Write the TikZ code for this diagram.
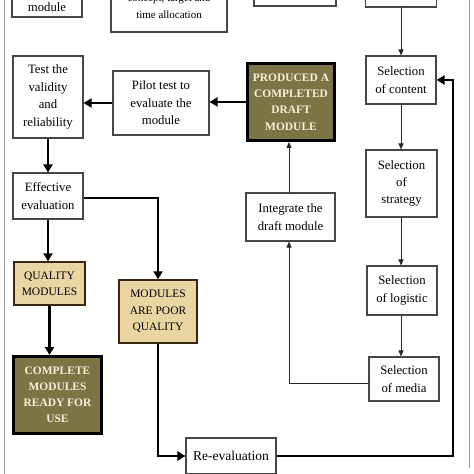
\documentclass[tikz,border=0pt]{standalone}
\usepackage{fontspec}
\setmainfont{Liberation Serif}
\usetikzlibrary{arrows.meta,positioning}
\definecolor{olive}{RGB}{125,116,70}
\definecolor{tan}{RGB}{233,212,162}
\definecolor{cream}{RGB}{246,240,218}
\definecolor{boxline}{RGB}{70,70,70}
\tikzset{
  box/.style={draw=boxline, line width=1.1pt, fill=white, inner sep=0pt, align=center,
    font=\fontsize{12.8}{17.5}\selectfont},
  darkbox/.style={draw=black, line width=3pt, fill=olive, text=cream, inner sep=0pt, align=center,
    font=\fontsize{11.5}{16.5}\selectfont\bfseries},
  tanbox/.style={draw=black!70!brown, line width=1.4pt, fill=tan, inner sep=0pt, align=center,
    font=\fontsize{11.5}{16.5}\selectfont},
  thinarrow/.style={draw=black!85, line width=0.9pt, -{Triangle[length=6bp,width=5bp]}},
  thickline/.style={draw=black, line width=2.6pt},
  thickarrow/.style={thickline, -{Triangle[length=8bp,width=9bp]}},
  frameline/.style={draw=black!40, line width=1pt}
}
\begin{document}
\begin{tikzpicture}[x=1bp,y=-1bp]
\useasboundingbox (0,0) rectangle (474,474);
\clip (0,0) rectangle (474,474);
\fill[white] (0,0) rectangle (474,474);
\draw[frameline] (4,-5) -- (4,480);
\draw[frameline] (469,-5) -- (469,468);

% top (cropped) boxes
\node[box, minimum width=70bp, minimum height=20bp] (modtop) at (47,7) {module};
\node[box, minimum width=116bp, minimum height=51bp, font=\fontsize{11}{17}\selectfont] (concept) at (169,6.5) {concept, target and\\time allocation};
\node[box, minimum width=82bp, minimum height=32bp] (boxc) at (295,-10) {};
\node[box, minimum width=71bp, minimum height=34bp] (boxd) at (401,-10) {};

% main boxes
\node[box, minimum width=70bp, minimum height=82bp] (test) at (48,97) {Test the\\validity\\and\\reliability};
\node[box, minimum width=96bp, minimum height=64bp] (pilot) at (161,103) {Pilot test to\\evaluate the\\module};
\node[darkbox, minimum width=87bp, minimum height=77bp] (produced) at (291,102) {PRODUCED A\\COMPLETED\\DRAFT\\MODULE};
\node[box, minimum width=70bp, minimum height=48bp] (content) at (401,80) {Selection\\of content};
\node[box, minimum width=70bp, minimum height=46bp] (effective) at (48,196) {Effective\\evaluation};
\node[box, minimum width=89bp, minimum height=48bp] (integrate) at (290.5,217) {Integrate the\\draft module};
\node[box, minimum width=71bp, minimum height=67bp] (strategy) at (401.5,183.5) {Selection\\of\\strategy};
\node[tanbox, minimum width=71bp, minimum height=43bp] (quality) at (49.5,283.5) {QUALITY\\MODULES};
\node[tanbox, minimum width=78bp, minimum height=63bp] (poor) at (158,311.5) {MODULES\\ARE POOR\\QUALITY};
\node[box, minimum width=70bp, minimum height=49bp] (logistic) at (402,290.5) {Selection\\of logistic};
\node[box, minimum width=70bp, minimum height=44bp] (media) at (404,379) {Selection\\of media};
\node[darkbox, minimum width=88bp, minimum height=77bp, font=\fontsize{11.5}{16}\selectfont\bfseries] (complete) at (57.5,395) {COMPLETE\\MODULES\\READY FOR\\USE};
\node[box, minimum width=90bp, minimum height=36bp, font=\fontsize{13.6}{17.5}\selectfont] (reeval) at (231,456) {Re-evaluation};

\coordinate (rr) at (453,456);

% thin connectors (right column)
\draw[thinarrow] (boxd.south) -- (boxd.south |- content.north);
\draw[thinarrow] (content.south) -- (content.south |- strategy.north);
\draw[thinarrow] (strategy.south -| content.south) -- (content.south |- logistic.north);
\draw[thinarrow] (logistic.south -| content.south) -- (content.south |- media.north);
\draw[thinarrow] ([yshift=-4bp]media.west) -| ([xshift=-1.5bp]integrate.south);
\draw[thinarrow] ([xshift=-1.5bp]integrate.north) -- ([xshift=-1.5bp]integrate.north |- produced.south);

% thick connectors
\draw[thickarrow] (produced.west) -- (produced.west -| pilot.east);
\draw[thickarrow] (pilot.west) -- (pilot.west -| test.east);
\draw[thickarrow] (test.south) -- (test.south |- effective.north);
\draw[thickarrow] (effective.south) -- (effective.south |- quality.north);
\draw[thickarrow] ([yshift=-2bp]effective.east) -| (poor.north);
\draw[thickarrow] (quality.south) -- (quality.south |- complete.north);
\draw[thickarrow] (poor.south) |- (reeval.west);
\draw[thickarrow] (reeval.east) -- (rr) |- (content.east);
\end{tikzpicture}
\end{document}
